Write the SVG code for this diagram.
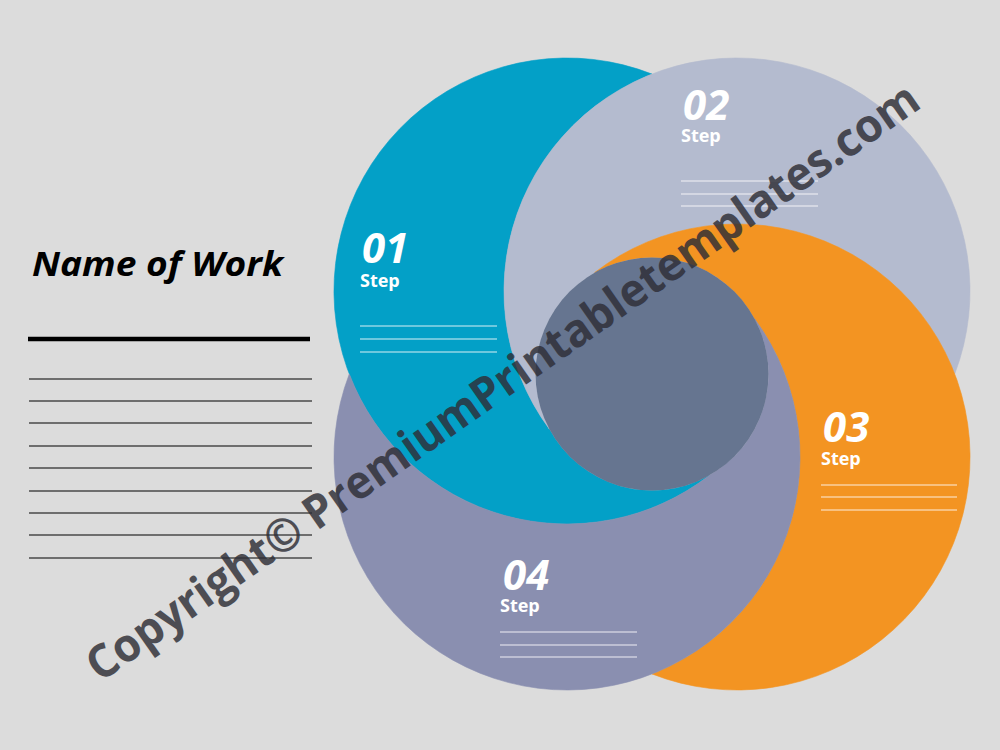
<svg xmlns="http://www.w3.org/2000/svg" width="1000" height="750" viewBox="0 0 1000 750">
  <style>
    .num { font-family: "Open Sans", "Liberation Sans", sans-serif; font-weight: 700; font-style: italic; font-size: 42px; fill: #ffffff; }
    .step { font-family: "Open Sans", "Liberation Sans", sans-serif; font-weight: 700; font-size: 18px; fill: #ffffff; }
    .wl { stroke: #ffffff; stroke-width: 1.2; opacity: 0.85; }
    .gl { stroke: #4a4a4a; stroke-width: 1.5; }
    .title { font-family: "Open Sans", "Liberation Sans", sans-serif; font-weight: 700; font-style: italic; font-size: 34px; fill: #000000; }
    .wm { font-family: "Open Sans", "Liberation Sans", sans-serif; font-weight: 700; font-size: 46px; fill: #2e2e36; opacity: 0.82; }
    .blue { fill: #03a0c7; stroke: #03a0c7; stroke-width: 0.6; }
    .gray { fill: #b4bbcf; stroke: #b4bbcf; stroke-width: 0.6; }
    .orange { fill: #f39422; stroke: #f39422; stroke-width: 0.6; }
    .purple { fill: #8a8fb0; stroke: #8a8fb0; stroke-width: 0.6; }
  </style>
  <rect x="0" y="0" width="1000" height="750" fill="#dcdcdc"/>

  <g id="title-block">
    <text class="title" x="32" y="276" textLength="251" lengthAdjust="spacingAndGlyphs">Name of Work</text>
    <line x1="28" y1="339" x2="310" y2="339" stroke="#000000" stroke-width="4.5"/>
    <line class="gl" x1="29" y1="379" x2="312" y2="379"/>
    <line class="gl" x1="29" y1="401" x2="312" y2="401"/>
    <line class="gl" x1="29" y1="423" x2="312" y2="423"/>
    <line class="gl" x1="29" y1="446" x2="312" y2="446"/>
    <line class="gl" x1="29" y1="468" x2="312" y2="468"/>
    <line class="gl" x1="29" y1="491" x2="312" y2="491"/>
    <line class="gl" x1="29" y1="513" x2="312" y2="513"/>
    <line class="gl" x1="29" y1="535" x2="312" y2="535"/>
    <line class="gl" x1="29" y1="558" x2="312" y2="558"/>
  </g>

  <g id="crescent-01">
    <path class="blue" d="M 652 74.06 A 233 233 0 1 0 709.5 475.3 A 116.5 116.5 0 0 1 549.35 429.1 A 233 233 0 0 1 652 74.06 Z"/>
  </g>
  <g id="crescent-02">
    <path class="gray" d="M 954.71 374 A 233 233 0 1 0 549.35 429.1 A 116.5 116.5 0 0 1 594.5 272.7 A 233 233 0 0 1 954.71 374 Z"/>
  </g>
  <g id="crescent-03">
    <path class="orange" d="M 652 673.94 A 233 233 0 1 0 594.5 272.7 A 116.5 116.5 0 0 1 754.65 318.9 A 233 233 0 0 1 652 673.94 Z"/>
  </g>
  <g id="crescent-04">
    <path class="purple" d="M 349.29 374 A 233 233 0 1 0 754.65 318.9 A 116.5 116.5 0 0 1 709.5 475.3 A 233 233 0 0 1 349.29 374 Z"/>
  </g>
  <g id="center">
    <circle cx="652" cy="374" r="116.5" fill="#667590"/>
  </g>

  <g id="step-01">
    <text class="num" x="362" y="263">01</text>
    <text class="step" x="360" y="287">Step</text>
    <line class="wl" x1="360" y1="326" x2="497" y2="326"/>
    <line class="wl" x1="360" y1="339" x2="497" y2="339"/>
    <line class="wl" x1="360" y1="352" x2="497" y2="352"/>
  </g>
  <g id="step-02">
    <text class="num" x="683" y="120">02</text>
    <text class="step" x="681" y="142">Step</text>
    <line class="wl" x1="681" y1="181" x2="818" y2="181"/>
    <line class="wl" x1="681" y1="194" x2="818" y2="194"/>
    <line class="wl" x1="681" y1="206" x2="818" y2="206"/>
  </g>
  <g id="step-03">
    <text class="num" x="823" y="442">03</text>
    <text class="step" x="821" y="465">Step</text>
    <line class="wl" x1="821" y1="485" x2="957" y2="485"/>
    <line class="wl" x1="821" y1="497" x2="957" y2="497"/>
    <line class="wl" x1="821" y1="510" x2="957" y2="510"/>
  </g>
  <g id="step-04">
    <text class="num" x="503" y="590">04</text>
    <text class="step" x="500" y="612">Step</text>
    <line class="wl" x1="500" y1="632" x2="637" y2="632"/>
    <line class="wl" x1="500" y1="645" x2="637" y2="645"/>
    <line class="wl" x1="500" y1="657" x2="637" y2="657"/>
  </g>

  <g id="connectors"></g>

  <text class="wm" transform="translate(100,683) rotate(-35)" textLength="1005" lengthAdjust="spacingAndGlyphs">Copyright© PremiumPrintabletemplates.com</text>
</svg>
